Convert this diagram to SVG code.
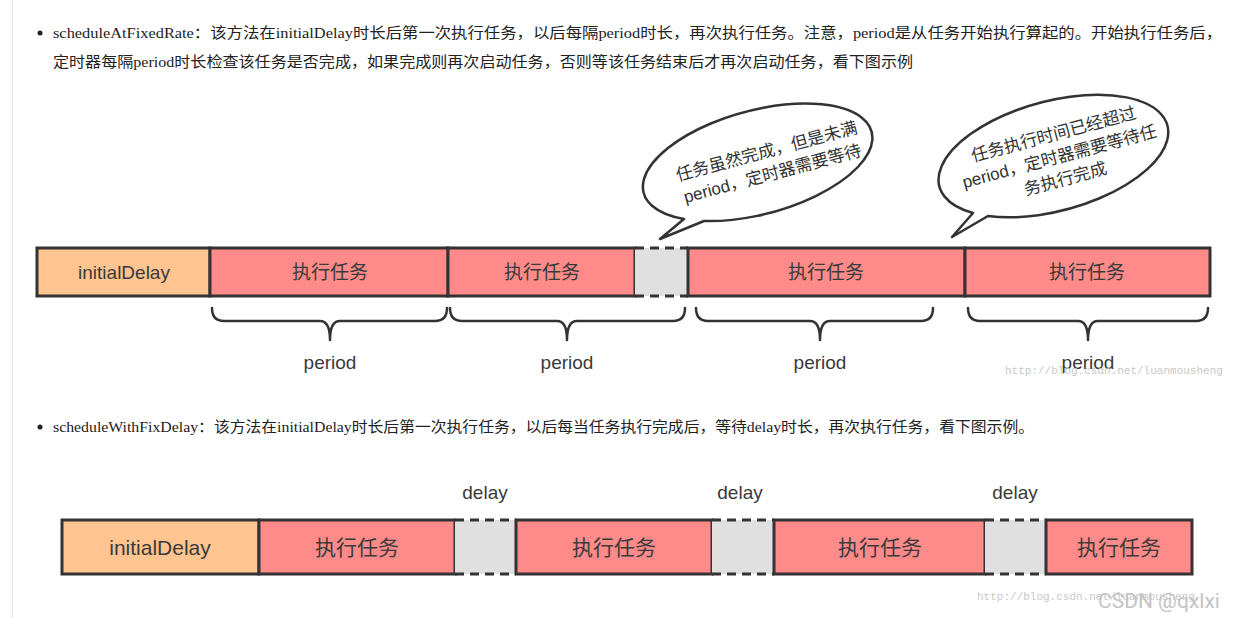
<svg xmlns="http://www.w3.org/2000/svg" width="1236" height="618" viewBox="0 0 1236 618">
<style>
.para{font-family:"Liberation Serif","Noto Sans CJK SC",serif;font-size:15px;fill:#222}
.dot{fill:#222}
.lbl{font-family:"Liberation Sans","Noto Sans CJK SC",sans-serif;fill:#3a3a3a;text-anchor:middle;dominant-baseline:central}
.t1{font-size:19px}
.t2{font-size:21px}
.init{fill:#ffc48f;stroke:#333;stroke-width:3}
.task{fill:#ff8a8a;stroke:#333;stroke-width:3}
.gap{fill:#e0e0e0;stroke:none}
.dash{fill:none;stroke:#333;stroke-width:3;stroke-dasharray:9 6}
.brace{fill:none;stroke:#333;stroke-width:2.5;stroke-linecap:round;stroke-linejoin:round}
.bubble{fill:#fff;stroke:#333;stroke-width:2.5;stroke-linejoin:round}
.btxt{font-family:"Liberation Sans","Noto Sans CJK SC",sans-serif;font-size:17px;fill:#333;text-anchor:middle}
.wm{font-family:"Liberation Mono","DejaVu Sans Mono",monospace;font-size:11px;fill:#c8c8c8}
</style>
<rect width="1236" height="618" fill="#fff"/>
<line x1="12.5" y1="0" x2="12.5" y2="618" stroke="#e6e6e6" stroke-width="1"/>

<g id="text1">
<circle class="dot" cx="40" cy="33" r="2.5"/>
<text class="para" x="53" y="38" textLength="1169" lengthAdjust="spacingAndGlyphs">scheduleAtFixedRate：该方法在initialDelay时长后第一次执行任务，以后每隔period时长，再次执行任务。注意，period是从任务开始执行算起的。开始执行任务后，</text>
<text class="para" x="53" y="67" textLength="860" lengthAdjust="spacingAndGlyphs">定时器每隔period时长检查该任务是否完成，如果完成则再次启动任务，否则等该任务结束后才再次启动任务，看下图示例</text>
</g>

<g id="bubble1">
<path class="bubble" d="M684,219 L660,239 L704,221 A118,52 -15 1 0 684,219 Z"/>
<text class="btxt" transform="translate(768,157) rotate(-15)"><tspan x="0" y="0">任务虽然完成，但是未满</tspan><tspan x="0" y="23">period，定时器需要等待</tspan></text>
</g>

<g id="bubble2">
<path class="bubble" d="M973,213 L952,237 L988,216 A118,55 -15 1 0 973,213 Z"/>
<text class="btxt" transform="translate(1055,140) rotate(-15)"><tspan x="0" y="0">任务执行时间已经超过</tspan><tspan x="0" y="23">period，定时器需要等待任</tspan><tspan x="0" y="46">务执行完成</tspan></text>
</g>

<g id="bar1">
<rect class="init" x="37" y="248" width="173" height="48"/>
<text class="lbl t1" x="124" y="272">initialDelay</text>
<rect class="task" x="210" y="248" width="238" height="48"/>
<text class="lbl t1" x="330" y="272">执行任务</text>
<rect class="task" x="448" y="248" width="187" height="48"/>
<text class="lbl t1" x="542" y="272">执行任务</text>
<rect class="gap" x="635" y="248" width="53" height="48"/>
<path class="dash" d="M635,248 H688 M635,296 H688"/>
<rect class="task" x="688" y="248" width="277" height="48"/>
<text class="lbl t1" x="826" y="272">执行任务</text>
<rect class="task" x="965" y="248" width="245" height="48"/>
<text class="lbl t1" x="1087" y="272">执行任务</text>
</g>

<g id="braces">
<path class="brace" d="M212,308 Q212,321 224,321 L320,321 Q330,321 330,340 Q330,321 340,321 L435,321 Q447,321 447,308"/>
<path class="brace" d="M450,308 Q450,321 462,321 L557,321 Q567,321 567,340 Q567,321 577,321 L673,321 Q685,321 685,308"/>
<path class="brace" d="M696,308 Q696,321 708,321 L810,321 Q820,321 820,340 Q820,321 830,321 L921,321 Q933,321 933,308"/>
<path class="brace" d="M968,308 Q968,321 980,321 L1078,321 Q1088,321 1088,340 Q1088,321 1098,321 L1196,321 Q1208,321 1208,308"/>
<text class="lbl t1" x="330" y="362">period</text>
<text class="lbl t1" x="567" y="362">period</text>
<text class="lbl t1" x="820" y="362">period</text>
<text class="lbl t1" x="1088" y="362">period</text>
</g>
<text class="wm" x="1005" y="374">http://blog.csdn.net/luanmousheng</text>

<g id="text2">
<circle class="dot" cx="40" cy="427" r="2.5"/>
<text class="para" x="53" y="432" textLength="981" lengthAdjust="spacingAndGlyphs">scheduleWithFixDelay：该方法在initialDelay时长后第一次执行任务，以后每当任务执行完成后，等待delay时长，再次执行任务，看下图示例。</text>
</g>

<g id="bar2">
<rect class="init" x="62" y="520" width="197" height="54"/>
<text class="lbl t2" x="160" y="547">initialDelay</text>
<rect class="task" x="259" y="520" width="196" height="54"/>
<text class="lbl t2" x="357" y="547">执行任务</text>
<rect class="gap" x="455" y="520" width="61" height="54"/>
<path class="dash" d="M455,520 H516 M455,574 H516"/>
<rect class="task" x="516" y="520" width="196" height="54"/>
<text class="lbl t2" x="614" y="547">执行任务</text>
<rect class="gap" x="712" y="520" width="62" height="54"/>
<path class="dash" d="M712,520 H774 M712,574 H774"/>
<rect class="task" x="774" y="520" width="211" height="54"/>
<text class="lbl t2" x="880" y="547">执行任务</text>
<rect class="gap" x="985" y="520" width="61" height="54"/>
<path class="dash" d="M985,520 H1046 M985,574 H1046"/>
<rect class="task" x="1046" y="520" width="146" height="54"/>
<text class="lbl t2" x="1119" y="547">执行任务</text>
<text class="lbl t1" x="485" y="492">delay</text>
<text class="lbl t1" x="740" y="492">delay</text>
<text class="lbl t1" x="1015" y="492">delay</text>
</g>
<text class="wm" x="977" y="600">http://blog.csdn.net/luanmousheng</text>
<text x="1098" y="608" font-family="Roboto,'Liberation Sans',sans-serif" font-size="21" fill="#c4c4c4">CSDN @qxlxi</text>
</svg>
